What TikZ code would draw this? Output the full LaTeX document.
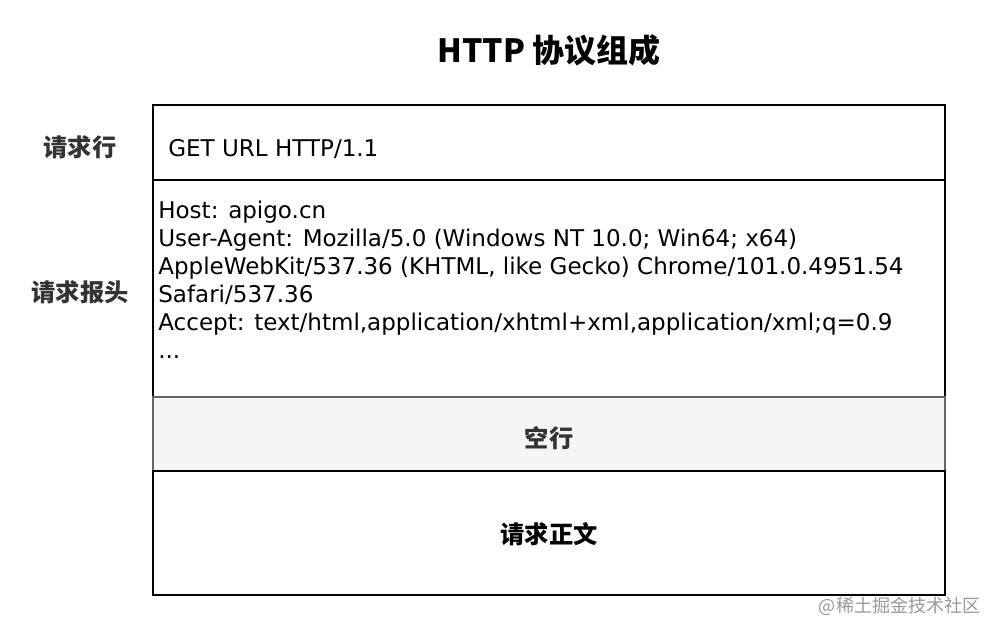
\documentclass[tikz,border=0pt]{standalone}
\usepackage{fontspec}
\setmainfont{Noto Sans}
\newfontfamily\cjk{Noto Sans CJK SC}
\newfontfamily\fieldfont{DejaVu Sans}
\definecolor{blankfill}{HTML}{F5F5F5}
\definecolor{blankdraw}{HTML}{666666}

\begin{document}
\begin{tikzpicture}[x=0.02cm,y=-0.02cm]

	\tikzset{part/.style = {draw=black,line width=1.1pt}}
	\tikzset{side/.style = {font=\cjk\bfseries\fontsize{13.8}{16}\selectfont,text=black!80}}
	\tikzset{body/.style = {font=\fieldfont\fontsize{13.1}{15.9}\selectfont,align=left,inner sep=0pt}}

	\useasboundingbox (0,0) rectangle (1000,635);

	\node[font=\cjk\bfseries\fontsize{18.2}{21}\selectfont] (title) at (549,50) {HTTP 协议组成};

	% request parts
	\draw[part] (153,105) rectangle (945,180);
	\draw[part] (153,180) rectangle (945,397);
	\draw[fill=blankfill,draw=blankdraw,line width=0.9pt] (153,397) rectangle (945,471);
	\draw[part] (153,471) rectangle (945,595);

	\node[side] (line) at (80,147) {请求行};
	\node[side] (head) at (80,292) {请求报头};

	\node[body,anchor=base west] (get) at (168,156) {GET URL HTTP/1.1};
	\node[body,anchor=north west] (fields) at (158,201) {Host: apigo.cn\\
		User-Agent: Mozilla/5.0 (Windows NT 10.0; Win64; x64)\\
		AppleWebKit/537.36 (KHTML, like Gecko) Chrome/101.0.4951.54\\
		Safari/537.36\\
		Accept: text/html,application/xhtml+xml,application/xml;q=0.9\\
		...};

	\node[side] (blank) at (549,438) {空行};
	\node[side,text=black] (entity) at (549,534) {请求正文};

	\node[font=\cjk\fontsize{10.3}{12}\selectfont,text=black!40,anchor=east] (mark) at (987,606) {@稀土掘金技术社区};
\end{tikzpicture}
\end{document}
